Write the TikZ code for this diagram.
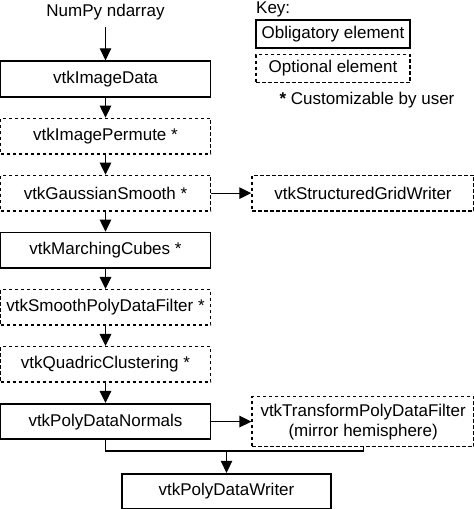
\documentclass[tikz,border=0pt]{standalone}
\usepackage{fontspec}
\setmainfont{Liberation Sans}
\usetikzlibrary{arrows.meta, positioning}

\begin{document}
\begin{tikzpicture}[x=1pt, y=-1pt, node distance=20pt,
  font=\fontsize{17}{20}\selectfont,
  block/.style={minimum width=210pt, minimum height=35.5pt, inner xsep=2pt},
  oblig/.style={block, draw, line width=1.8pt},
  option/.style={block, draw, line width=1.5pt, dash pattern=on 3.5pt off 2.5pt},
  keybox/.style={minimum width=154pt, minimum height=28pt, inner sep=2pt},
  flow/.style={-{Triangle[length=12pt,width=11.5pt]}, line width=1.2pt}]
  \useasboundingbox (0,0) rectangle (474,509);

  % main pipeline
  \node[inner ysep=7pt] (numpy) at (105.5,12) {NumPy ndarray};
  \node[oblig] (imgdata) at (105.5,79) {vtkImageData};
  \node[option, below=of imgdata] (permute) {vtkImagePermute *};
  \node[option, below=of permute] (gauss) {vtkGaussianSmooth *};
  \node[oblig,  below=of gauss] (march) {vtkMarchingCubes *};
  \node[option, below=of march] (smooth) {vtkSmoothPolyDataFilter *};
  \node[option, below=of smooth] (quadric) {vtkQuadricClustering *};
  \node[oblig,  below=of quadric] (normals) {vtkPolyDataNormals};

  % side branches
  \node[option, right=40pt of gauss, minimum width=222pt] (gridwriter) {vtkStructuredGridWriter};
  \node[option, right=40pt of normals, minimum width=222pt, minimum height=50pt,
        align=center] (transform) {vtkTransformPolyDataFilter\\(mirror hemisphere)};
  \node[oblig, minimum width=209pt] (writer) at (226.5,491.5) {vtkPolyDataWriter};

  % key
  \node[anchor=west, inner sep=0pt] (key) at (256,9) {Key:};
  \node[keybox, draw, line width=1.8pt] (keyob) at (333,34) {Obligatory element};
  \node[keybox, draw, line width=1.5pt, dash pattern=on 3.5pt off 2.5pt] (keyop) at (333,68.5) {Optional element};
  \node (custom) at (367,100) {\textbf{*} Customizable by user};

  \draw[flow] (numpy) -- (imgdata);
  \draw[flow] (imgdata) -- (permute);
  \draw[flow] (permute) -- (gauss);
  \draw[flow] (gauss) -- (march);
  \draw[flow] (march) -- (smooth);
  \draw[flow] (smooth) -- (quadric);
  \draw[flow] (quadric) -- (normals);
  \draw[flow] (gauss) -- (gridwriter);
  \draw[flow] (normals) -- (transform);

  \coordinate (join) at (writer.north |- 0,451);
  \draw[line width=1.2pt] (normals.south) |- (join) -| (transform.south);
  \draw[flow] (join) -- (writer);
\end{tikzpicture}
\end{document}
